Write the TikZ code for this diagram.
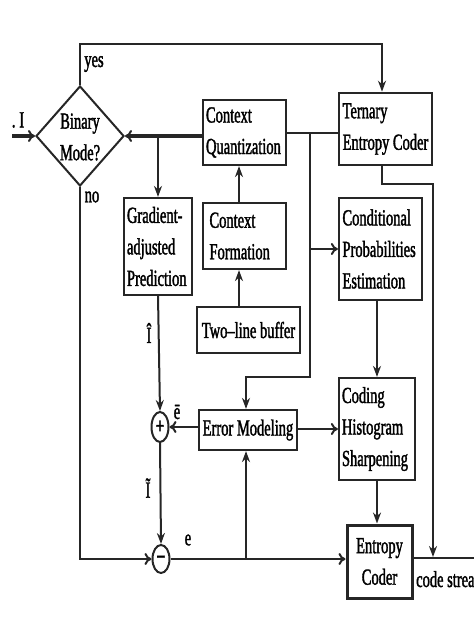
\documentclass[tikz,border=0pt]{standalone}
\usepackage{fontspec}
\setmainfont[FakeStretch=0.63,FakeBold=1.5]{Liberation Serif}
\usetikzlibrary{arrows.meta,shapes.geometric}
\begin{document}
\begin{tikzpicture}[x=1pt,y=-1pt,
  every node/.style={font=\fontsize{23}{31.5}\selectfont},
  conn/.style={line width=2pt,draw=black!85},
  thickconn/.style={line width=3.8pt,draw=black!85},
  arr/.style={-{Stealth[length=11pt,width=8pt]}},
  harr/.style={-{To[length=7pt,width=12pt,line width=2pt]}},
  blk/.style={draw=black!85,line width=2.2pt,inner sep=3pt,rectangle},
  lbl/.style={inner sep=0pt}
]
\useasboundingbox (0,0) rectangle (474,632);
% boxes
\node[diamond,draw=black!85,line width=2pt,minimum width=88pt,minimum height=100pt,inner sep=0pt] (bm) at (80,136) {};
\node[lbl,align=center] (bmt) at (80,137) {Binary\\Mode?};
\node[blk,minimum width=83pt,minimum height=65pt,text width=77pt,inner sep=2pt,align=left] (cq) at (244.5,132.5) {Context\\Quantization};
\node[blk,minimum width=93pt,minimum height=72pt,inner sep=1pt,align=left,line width=2.6pt] (tern) at (385.5,129) {Ternary\\Entropy Coder};
\node[blk,minimum width=68pt,minimum height=97pt,text width=62pt,align=left] (grad) at (158,246.5) {Gradient-\\adjusted\\Prediction};
\node[blk,minimum width=83pt,minimum height=66pt,text width=70pt,align=left] (cf) at (244.5,236) {Context\\Formation};
\node[blk,minimum width=103pt,minimum height=46pt,align=center] (tlb) at (248.5,330) {Two--line buffer};
\node[blk,minimum width=83pt,minimum height=102pt,text width=76pt,align=left] (cpe) at (380.5,249) {Conditional\\Probabilities\\Estimation};
\node[blk,minimum width=98pt,minimum height=40pt,align=center] (em) at (248,430) {Error Modeling};
\node[blk,minimum width=76pt,minimum height=102pt,text width=70pt,align=left] (chs) at (377,429) {Coding\\Histogram\\Sharpening};
\node[blk,minimum width=65pt,minimum height=73pt,align=center,line width=3pt] (ec) at (379.5,561.5) {Entropy\\Coder};
\node[ellipse,draw=black!85,line width=2pt,minimum width=17pt,minimum height=30pt,inner sep=0pt] (plus) at (160,427) {\textbf{+}};
\node[ellipse,draw=black!85,line width=2pt,minimum width=17pt,minimum height=28pt,inner sep=0pt] (minus) at (161,559) {\textbf{--}};
% coordinates
\coordinate (src) at (12,136);
\coordinate (ytop) at (382,44);
\coordinate (j1) at (310,133);
\coordinate (j2) at (310,377);
\coordinate (j3) at (246,377);
\coordinate (j4) at (310,249);
\coordinate (t1) at (382,184);
\coordinate (t2) at (433,184);
\coordinate (t3) at (433,557);
\coordinate (cx) at (239,0);
\coordinate (j5) at (246,559);
\coordinate (out) at (480,558);
% connectors
\draw[thickconn,harr] (src) -- (bm.west);
\draw[conn,arr] (bm.north) |- (ytop) -- (ytop |- tern.north);
\draw[thickconn,harr] (cq.west |- bm.east) -- (bm.east);
\draw[conn,arr] (grad.north |- bm.east) -- (grad.north);
\draw[conn] (tern.west |- j1) -- (cq.east |- j1);
\draw[conn,arr] (j1) -- (j2) -- (j3) -- (j3 |- em.north);
\draw[conn,harr] (j4) -- (cpe.west |- j4);
\draw[conn,arr] (cx |- cf.north) -- (cx |- cq.south);
\draw[conn,arr] (cx |- tlb.north) -- (cx |- cf.south);
\draw[conn,arr] (t1 |- tern.south) -- (t1) -- (t2) -- (t3);
\draw[conn,arr] (grad.south) -- (plus.north);
\draw[conn,harr] (em.west |- plus.east) -- (plus.east);
\draw[conn,harr] (em.east |- chs.west) -- (chs.west);
\draw[conn,arr] (cpe.south -| chs.north) -- (chs.north);
\draw[conn,arr] (chs.south) -- (chs.south |- ec.north);
\draw[conn,arr] (plus.south) -- (minus.north);
\draw[conn,harr] (bm.south) |- (minus.west);
\draw[conn,harr] (minus.east) -- (ec.west |- minus.east);
\draw[conn,arr] (j5) -- (j5 |- em.south);
\draw[conn] (ec.east |- out) -- (out);
% labels
\node[lbl] (lin) at (18,120) {.\,I};
\node[lbl] (lyes) at (94,64) {yes};
\node[lbl] (lno) at (92,197) {no};
\node[lbl] (lih) at (149,333) {Î};
\node[lbl] (leb) at (177,412) {ē};
\node[lbl] (lit) at (148,488) {Ĩ};
\node[lbl] (le) at (188,540) {e};
\node[lbl,anchor=base west] (lcs) at (416,587) {code stream};
\end{tikzpicture}
\end{document}
